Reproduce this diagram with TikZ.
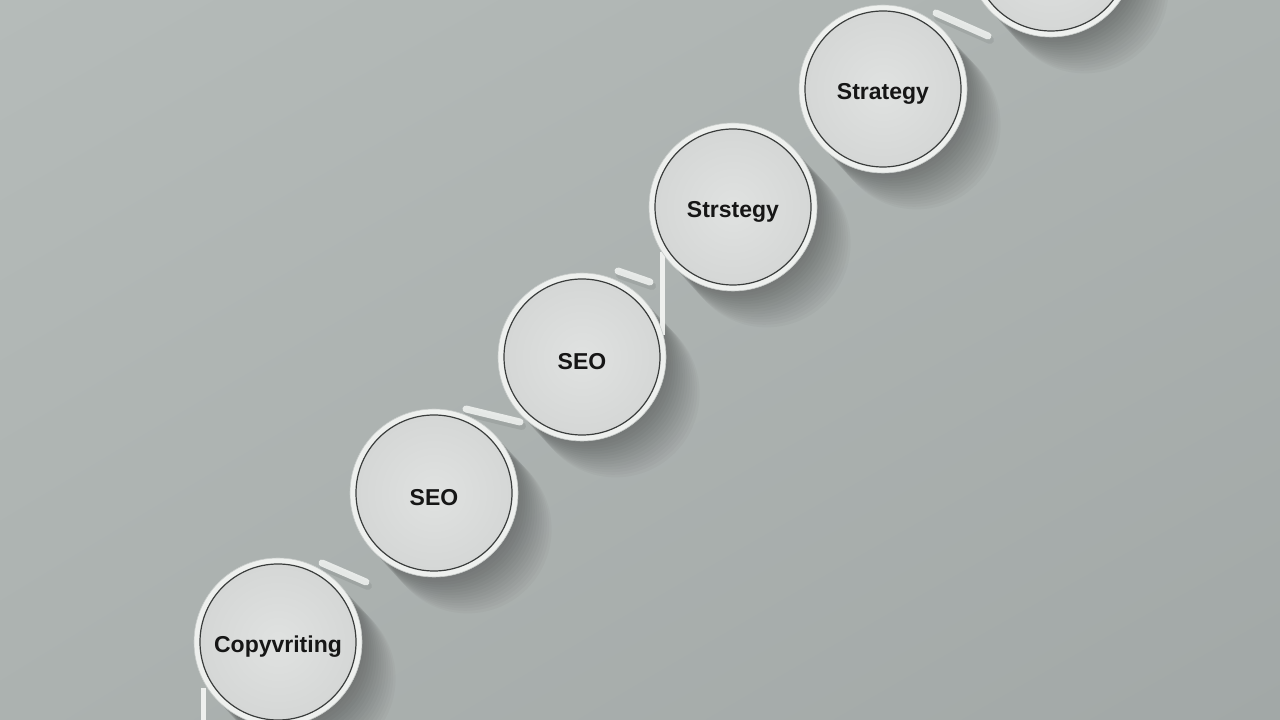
\documentclass[tikz,border=0pt]{standalone}
\usepackage{fontspec}
\setmainfont{Liberation Sans}
\usetikzlibrary{calc,shadings}
\definecolor{bgL}{HTML}{B5BBB9}
\definecolor{bgM}{HTML}{ACB2B0}
\definecolor{bgD}{HTML}{A2A8A7}
\definecolor{rim}{HTML}{EEF0EE}
\definecolor{rimedge}{HTML}{C8CCCA}
\definecolor{discIn}{HTML}{E0E2E1}
\definecolor{discOut}{HTML}{D4D6D5}
\definecolor{ringc}{HTML}{3A3D3C}
\definecolor{ink}{HTML}{161616}
\definecolor{ribc}{HTML}{F2F4F2}
\newcommand{\disctext}[1]{\raisebox{-5pt}[\height][\depth]{#1}}
\tikzset{
  disc/.style={circle, minimum size=168pt, inner sep=0pt, fill=rim, draw=rimedge,
    line width=0.6pt, font=\bfseries\fontsize{23}{23}\selectfont, text=ink,
    path picture={
      \shade[inner color=discIn, outer color=discOut]
        (path picture bounding box.center) circle (78pt);
      \draw[ringc, line width=1.2pt]
        (path picture bounding box.center) circle (78pt);
    }},
  ribbon/.style={draw=ribc, line width=7pt, line cap=round, opacity=0.85},
  ribshadow/.style={draw=black, line width=8pt, line cap=round, opacity=0.07},
  strip/.style={draw=ribc, line width=5pt, opacity=0.95}
}
\begin{document}
\begin{tikzpicture}[x=1pt,y=1pt]
\useasboundingbox (0,0) rectangle (1280,720);
\shade[upper left=bgL, upper right=bgM, lower left=bgM, lower right=bgD]
  (0,0) rectangle (1280,720);

% soft shadows of the discs
\foreach \cx/\cy in {278/78, 434/227, 582/363, 733/513, 883/631, 1051/767}{
  \foreach \i in {1,...,14}{
    \fill[black, opacity=0.025] (\cx+2.4*\i, \cy-2.6*\i) circle (84);
  }
}

% ribbon end points
\coordinate (r1a) at (322,157);
\coordinate (r1b) at (366,138);
\coordinate (r2a) at (466,311);
\coordinate (r2b) at (520,298);
\coordinate (r3a) at (618,449);
\coordinate (r3b) at (650,438);
\coordinate (v3a) at (662,468);
\coordinate (v3b) at (662,385);
\coordinate (r4a) at (936,707);
\coordinate (r4b) at (988,684);
\coordinate (v1a) at (203,32);
\coordinate (v1b) at (203,0);

\foreach \a/\b in {r1a/r1b, r2a/r2b, r3a/r3b, r4a/r4b}{
  \draw[ribshadow] ($(\a)+(2,-4)$) -- ($(\b)+(2,-4)$);
  \draw[ribbon] (\a) -- (\b);
}
\draw[strip] (v3a) -- (v3b);
\draw[strip] (v1a) -- (v1b);

% discs
\node[disc] (c1) at (278,78)  {\disctext{Copyvriting}};
\node[disc] (c2) at (434,227) {\disctext{SEO}};
\node[disc] (c3) at (582,363) {\disctext{SEO}};
\node[disc] (c4) at (733,513) {\disctext{Strstegy}};
\node[disc] (c5) at (883,631) {\disctext{Strategy}};
\node[disc] (c6) at (1051,767) {};
\end{tikzpicture}
\end{document}
